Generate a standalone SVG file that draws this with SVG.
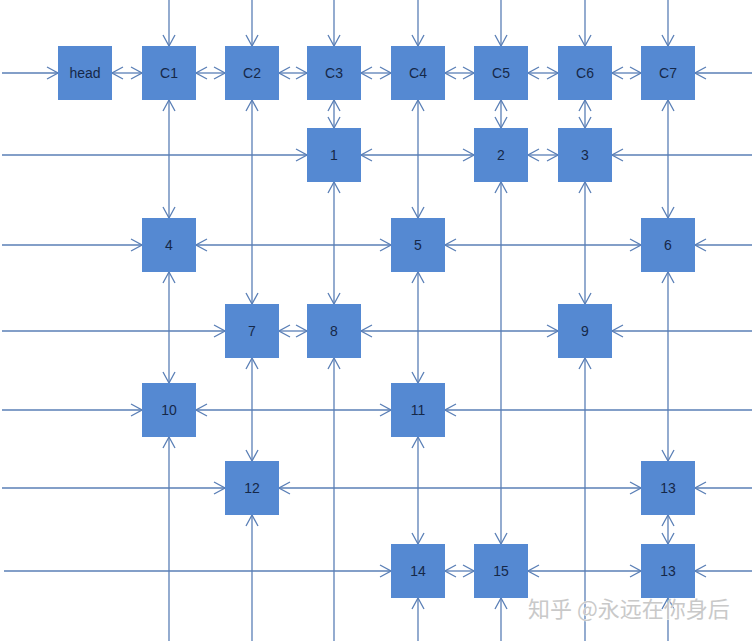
<svg xmlns="http://www.w3.org/2000/svg" width="754" height="641" viewBox="0 0 754 641">
<style>
.n rect{fill:#5589d2;}
.n text{font-family:"Liberation Sans",Arial,sans-serif;font-size:14px;fill:#152848;text-anchor:middle;dominant-baseline:central;}
.c line{stroke:#5a7fb6;stroke-width:1.3;fill:none;}
.s{marker-end:url(#a);}
.d{marker-start:url(#a);marker-end:url(#a);}
.wm{font-family:"Noto Sans CJK SC","Noto Sans",sans-serif;font-size:22px;fill:#c9c9c9;stroke:#ffffff;stroke-width:0.6;paint-order:stroke;}
</style>
<defs>
<marker id="a" viewBox="0 0 13 14" markerWidth="13" markerHeight="14" refX="12" refY="7" markerUnits="userSpaceOnUse" orient="auto-start-reverse">
<path d="M1,1 L12,7 L1,13" fill="none" stroke="#5a7fb6" stroke-width="1.3"/>
</marker>
</defs>
<rect width="754" height="641" fill="#ffffff"/>
<g id="connectors" class="c">
<!-- row 0 -->
<line class="s" x1="2" y1="73" x2="58" y2="73"/>
<line class="d" x1="112" y1="73" x2="142" y2="73"/>
<line class="d" x1="196" y1="73" x2="225" y2="73"/>
<line class="d" x1="279" y1="73" x2="307" y2="73"/>
<line class="d" x1="361" y1="73" x2="391" y2="73"/>
<line class="d" x1="445" y1="73" x2="474" y2="73"/>
<line class="d" x1="528" y1="73" x2="558" y2="73"/>
<line class="d" x1="612" y1="73" x2="641" y2="73"/>
<line class="s" x1="752" y1="73" x2="695" y2="73"/>
<!-- row 1 -->
<line class="s" x1="2" y1="155" x2="307" y2="155"/>
<line class="d" x1="361" y1="155" x2="474" y2="155"/>
<line class="d" x1="528" y1="155" x2="558" y2="155"/>
<line class="s" x1="752" y1="155" x2="612" y2="155"/>
<!-- row 2 -->
<line class="s" x1="2" y1="245" x2="142" y2="245"/>
<line class="d" x1="196" y1="245" x2="391" y2="245"/>
<line class="d" x1="445" y1="245" x2="641" y2="245"/>
<line class="s" x1="752" y1="245" x2="695" y2="245"/>
<!-- row 3 -->
<line class="s" x1="2" y1="331" x2="225" y2="331"/>
<line class="d" x1="279" y1="331" x2="307" y2="331"/>
<line class="d" x1="361" y1="331" x2="558" y2="331"/>
<line class="s" x1="752" y1="331" x2="612" y2="331"/>
<!-- row 4 -->
<line class="s" x1="2" y1="410" x2="142" y2="410"/>
<line class="d" x1="196" y1="410" x2="391" y2="410"/>
<line class="s" x1="752" y1="410" x2="445" y2="410"/>
<!-- row 5 -->
<line class="s" x1="2" y1="488" x2="225" y2="488"/>
<line class="d" x1="279" y1="488" x2="641" y2="488"/>
<line class="s" x1="752" y1="488" x2="695" y2="488"/>
<!-- row 6 -->
<line class="s" x1="4" y1="571" x2="391" y2="571"/>
<line class="d" x1="445" y1="571" x2="474" y2="571"/>
<line class="d" x1="528" y1="571" x2="641" y2="571"/>
<line class="s" x1="752" y1="571" x2="695" y2="571"/>
<!-- C1 column -->
<line class="s" x1="169" y1="0" x2="169" y2="46"/>
<line class="d" x1="169" y1="100" x2="169" y2="218"/>
<line class="d" x1="169" y1="272" x2="169" y2="383"/>
<line class="s" x1="169" y1="641" x2="169" y2="437"/>
<!-- C2 column -->
<line class="s" x1="252" y1="0" x2="252" y2="46"/>
<line class="d" x1="252" y1="100" x2="252" y2="304"/>
<line class="d" x1="252" y1="358" x2="252" y2="461"/>
<line class="s" x1="252" y1="641" x2="252" y2="515"/>
<!-- C3 column -->
<line class="s" x1="334" y1="0" x2="334" y2="46"/>
<line class="d" x1="334" y1="100" x2="334" y2="128"/>
<line class="d" x1="334" y1="182" x2="334" y2="304"/>
<line class="s" x1="334" y1="641" x2="334" y2="358"/>
<!-- C4 column -->
<line class="s" x1="418" y1="0" x2="418" y2="46"/>
<line class="d" x1="418" y1="100" x2="418" y2="218"/>
<line class="d" x1="418" y1="272" x2="418" y2="383"/>
<line class="d" x1="418" y1="437" x2="418" y2="544"/>
<line class="s" x1="418" y1="641" x2="418" y2="598"/>
<!-- C5 column -->
<line class="s" x1="501" y1="0" x2="501" y2="46"/>
<line class="d" x1="501" y1="100" x2="501" y2="128"/>
<line class="d" x1="501" y1="182" x2="501" y2="544"/>
<line class="s" x1="501" y1="641" x2="501" y2="598"/>
<!-- C6 column -->
<line class="s" x1="585" y1="0" x2="585" y2="46"/>
<line class="d" x1="585" y1="100" x2="585" y2="128"/>
<line class="d" x1="585" y1="182" x2="585" y2="304"/>
<line class="s" x1="585" y1="641" x2="585" y2="358"/>
<!-- C7 column -->
<line class="s" x1="668" y1="0" x2="668" y2="46"/>
<line class="d" x1="668" y1="100" x2="668" y2="218"/>
<line class="d" x1="668" y1="272" x2="668" y2="461"/>
<line class="d" x1="668" y1="515" x2="668" y2="544"/>
<line class="s" x1="668" y1="641" x2="668" y2="598"/>
</g>
<g id="head" class="n"><rect x="58" y="46" width="54" height="54"/><text x="85" y="73">head</text></g>
<g id="C1" class="n"><rect x="142" y="46" width="54" height="54"/><text x="169" y="73">C1</text></g>
<g id="C2" class="n"><rect x="225" y="46" width="54" height="54"/><text x="252" y="73">C2</text></g>
<g id="C3" class="n"><rect x="307" y="46" width="54" height="54"/><text x="334" y="73">C3</text></g>
<g id="C4" class="n"><rect x="391" y="46" width="54" height="54"/><text x="418" y="73">C4</text></g>
<g id="C5" class="n"><rect x="474" y="46" width="54" height="54"/><text x="501" y="73">C5</text></g>
<g id="C6" class="n"><rect x="558" y="46" width="54" height="54"/><text x="585" y="73">C6</text></g>
<g id="C7" class="n"><rect x="641" y="46" width="54" height="54"/><text x="668" y="73">C7</text></g>
<g id="n1" class="n"><rect x="307" y="128" width="54" height="54"/><text x="334" y="155">1</text></g>
<g id="n2" class="n"><rect x="474" y="128" width="54" height="54"/><text x="501" y="155">2</text></g>
<g id="n3" class="n"><rect x="558" y="128" width="54" height="54"/><text x="585" y="155">3</text></g>
<g id="n4" class="n"><rect x="142" y="218" width="54" height="54"/><text x="169" y="245">4</text></g>
<g id="n5" class="n"><rect x="391" y="218" width="54" height="54"/><text x="418" y="245">5</text></g>
<g id="n6" class="n"><rect x="641" y="218" width="54" height="54"/><text x="668" y="245">6</text></g>
<g id="n7" class="n"><rect x="225" y="304" width="54" height="54"/><text x="252" y="331">7</text></g>
<g id="n8" class="n"><rect x="307" y="304" width="54" height="54"/><text x="334" y="331">8</text></g>
<g id="n9" class="n"><rect x="558" y="304" width="54" height="54"/><text x="585" y="331">9</text></g>
<g id="n10" class="n"><rect x="142" y="383" width="54" height="54"/><text x="169" y="410">10</text></g>
<g id="n11" class="n"><rect x="391" y="383" width="54" height="54"/><text x="418" y="410">11</text></g>
<g id="n12" class="n"><rect x="225" y="461" width="54" height="54"/><text x="252" y="488">12</text></g>
<g id="n13a" class="n"><rect x="641" y="461" width="54" height="54"/><text x="668" y="488">13</text></g>
<g id="n14" class="n"><rect x="391" y="544" width="54" height="54"/><text x="418" y="571">14</text></g>
<g id="n15" class="n"><rect x="474" y="544" width="54" height="54"/><text x="501" y="571">15</text></g>
<g id="n13b" class="n"><rect x="641" y="544" width="54" height="54"/><text x="668" y="571">13</text></g>
<text class="wm" x="528" y="617">知乎 @永远在你身后</text>
</svg>
